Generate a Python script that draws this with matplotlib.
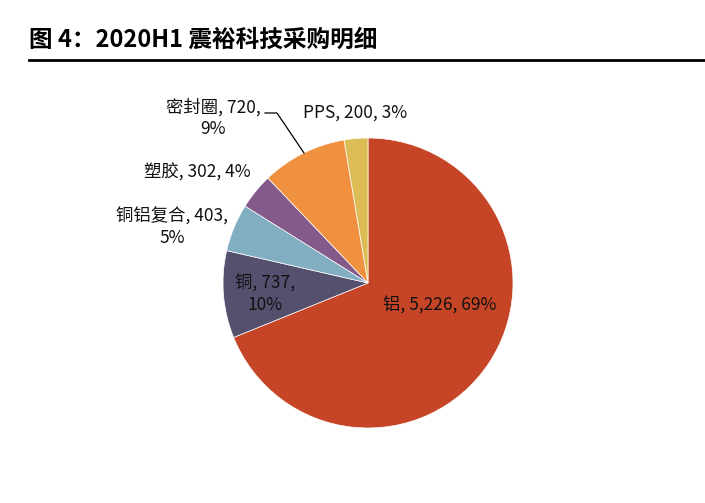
import matplotlib
matplotlib.use("Agg")
import matplotlib.pyplot as plt

plt.rcParams['font.family'] = ['Noto Sans CJK SC', 'DejaVu Sans']

categories = ["铝", "铜", "铜铝复合", "塑胶", "密封圈", "PPS"]
values = [5226, 737, 403, 302, 720, 200]
percents = ["69%", "10%", "5%", "4%", "9%", "3%"]
colors = ["#C64526", "#56506F", "#82AEC2", "#845A8A", "#F0913F", "#DCBC54"]
title = "图 4：2020H1 震裕科技采购明细"

W, H = 705, 503
fig = plt.figure(figsize=(W / 100, H / 100), dpi=100)
ax = fig.add_axes([0, 0, 1, 1])

ax.pie(values, colors=colors, startangle=-90, counterclock=True,
       center=(368, 283), radius=145,
       wedgeprops=dict(linewidth=0.5, edgecolor='white'), frame=True)
ax.set_xlim(0, W)
ax.set_ylim(H, 0)
ax.set_aspect('equal')
ax.axis('off')

label_pos = [(440, 306), (265, 294), (172, 227), (197, 172), (213, 118), (355, 113)]
two_line = [False, True, True, False, True, False]
for i in range(len(values)):
    x, y = label_pos[i]
    sep = ",\n" if two_line[i] else ", "
    txt = f"{categories[i]}, {values[i]:,}{sep}{percents[i]}"
    ax.text(x, y, txt, ha='center', va='center', fontsize=12.5,
            color='#111111', linespacing=1.25)

# leader line for 密封圈
ax.plot([265, 277, 304], [113, 113, 153], color='black', lw=0.9)

fig.text(29 / W, 1 - 40 / H, title, fontsize=17, fontweight='bold', ha='left', va='center')
fig.add_artist(plt.Line2D([29 / W, 1.0], [1 - 60 / H, 1 - 60 / H], color='black', lw=2))

fig.savefig("out.png", dpi=100)
